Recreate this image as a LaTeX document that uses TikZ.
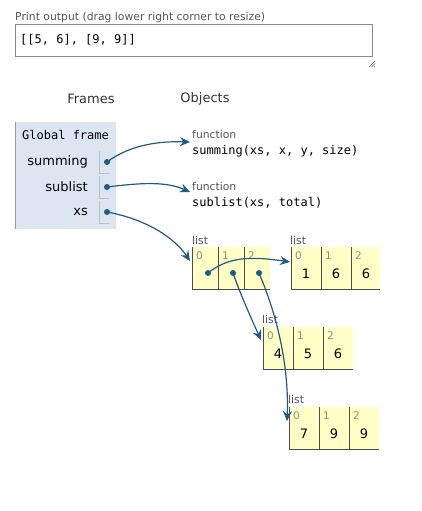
\documentclass[tikz,border=0pt]{standalone}
\usepackage{fontspec}
\setmainfont{DejaVu Sans}
\setmonofont{DejaVu Sans Mono}
\usetikzlibrary{arrows.meta}
\definecolor{ptblue}{HTML}{1F5B87}
\definecolor{framebg}{HTML}{DCE6F2}
\definecolor{listbg}{HTML}{FFFFC6}
\definecolor{lbl}{HTML}{555555}
\begin{document}
\begin{tikzpicture}[x=1pt,y=-1pt]
  \tikzset{ ptr/.style={ptblue,line width=1.2pt,-{Stealth[length=10pt,width=9pt,inset=3.5pt]}},
    dot/.style={circle,fill=ptblue,inner sep=0pt,minimum size=6pt},
    head/.style={font=\fontsize{13}{13}\selectfont,text=black!80,inner sep=0pt},
    var/.style={font=\fontsize{13}{13}\selectfont,anchor=east,inner sep=0pt},
    small/.style={font=\fontsize{10.8}{10.8}\selectfont,text=lbl,anchor=west,inner sep=0pt},
    code/.style={font=\ttfamily\fontsize{12}{12}\selectfont,anchor=west,inner sep=0pt},
    idx/.style={font=\fontsize{10.5}{10.5}\selectfont,text=black!45,anchor=west,inner sep=0pt},
    val/.style={font=\fontsize{13}{13}\selectfont,inner sep=0pt},
    cell/.style={draw=black!70,line width=0.8pt},
    slot/.style={draw=black!25,line width=0.8pt},
  }
  \useasboundingbox (0,0) rectangle (421,511);
  % the print output box
  \node[small] (ptitle) at (15,18) {Print output (drag lower right corner to resize)};
  \draw[black!45,line width=0.9pt] (15,24) rectangle (372,56);
  \node[code] (pout) at (20,40) {[[5, 6], [9, 9]]};
  \foreach \k in {0,2.5,5}
    \draw[black!60,line width=0.5pt] (369+\k,67) -- (375,61+\k);
  % the headings
  \node[head] (hframes) at (91,99) {Frames};
  \node[head] (hobjects) at (205,99) {Objects};
  % the global frame
  \fill[framebg] (15,122) rectangle (116,229);
  \draw[black!40,line width=0.8pt] (15,122) -- (15,229);
  \node[code] (gframe) at (22,135) {Global frame};
  \node[var] (vsum) at (88,162) {summing};
  \node[var] (vsub) at (88,187) {sublist};
  \node[var] (vxs) at (88,212) {xs};
  \draw[slot] (99,151) |- (109,173);
  \draw[slot] (99,176) |- (109,198);
  \draw[slot] (99,201) |- (109,223);
  \node[dot] (dsum) at (107,162) {};
  \node[dot] (dsub) at (107,187) {};
  \node[dot] (dxs) at (107,212) {};
  % the two functions
  \node[small] (fsum) at (192,134) {function};
  \node[code] (csum) at (192,151) {summing(xs, x, y, size)};
  \node[small] (fsub) at (192,186) {function};
  \node[code] (csub) at (192,203) {sublist(xs, total)};
  \coordinate (tsum) at (190,142);
  \coordinate (tsub) at (190,192);
  % the outer list
  \node[small] (la) at (192,240) {list};
  \fill[listbg] (192,247) rectangle (270,289);
  \draw[cell] (192,247) |- (270,289);
  \draw[cell] (218,247) -- (218,289);
  \draw[cell] (244,247) -- (244,289);
  \node[idx] (a0) at (196,256) {0};
  \node[idx] (a1) at (222,256) {1};
  \node[idx] (a2) at (248,256) {2};
  \node[dot] (pa0) at (208,273) {};
  \node[dot] (pa1) at (233,273) {};
  \node[dot] (pa2) at (259,273) {};
  \coordinate (ta) at (190,261);
  % list [1, 6, 6]
  \node[small] (lb) at (290,240) {list};
  \fill[listbg] (291,247) rectangle (380,289);
  \draw[cell] (291,247) |- (380,289);
  \draw[cell] (321,247) -- (321,289);
  \draw[cell] (351,247) -- (351,289);
  \node[idx] (b0) at (295,256) {0};
  \node[idx] (b1) at (325,256) {1};
  \node[idx] (b2) at (355,256) {2};
  \node[val] (vb0) at (306,274) {1};
  \node[val] (vb1) at (336,274) {6};
  \node[val] (vb2) at (366,274) {6};
  \coordinate (tb) at (290,262);
  % list [4, 5, 6]
  \node[small] (lc) at (262,319) {list};
  \fill[listbg] (263,327) rectangle (353,369);
  \draw[cell] (263,327) |- (353,369);
  \draw[cell] (293,327) -- (293,369);
  \draw[cell] (323,327) -- (323,369);
  \node[idx] (c0) at (267,336) {0};
  \node[idx] (c1) at (297,336) {1};
  \node[idx] (c2) at (327,336) {2};
  \node[val] (vc0) at (278,354) {4};
  \node[val] (vc1) at (308,354) {5};
  \node[val] (vc2) at (338,354) {6};
  \coordinate (tc) at (261,340);
  % list [7, 9, 9]
  \node[small] (ld) at (288,399) {list};
  \fill[listbg] (289,407) rectangle (379,449);
  \draw[cell] (289,407) |- (379,449);
  \draw[cell] (319,407) -- (319,449);
  \draw[cell] (349,407) -- (349,449);
  \node[idx] (d0) at (293,416) {0};
  \node[idx] (d1) at (323,416) {1};
  \node[idx] (d2) at (353,416) {2};
  \node[val] (vd0) at (304,434) {7};
  \node[val] (vd1) at (334,434) {9};
  \node[val] (vd2) at (364,434) {9};
  \coordinate (td) at (287,421);
  % the pointers
  \draw[ptr] (dsum.center) .. controls (130,145) and (158,141) .. (tsum);
  \draw[ptr] (dsub.center) .. controls (140,183) and (165,181) .. (tsub);
  \draw[ptr] (dxs.center) .. controls (150,220) and (176,240) .. (ta);
  \draw[ptr] (pa0.center) .. controls (228,257) and (250,256) .. (tb);
  \draw[ptr] (pa1.center) .. controls (241,296) and (252,320) .. (tc);
  \draw[ptr] (pa2.center) .. controls (279,320) and (289,370) .. (td);
\end{tikzpicture}
\end{document}
